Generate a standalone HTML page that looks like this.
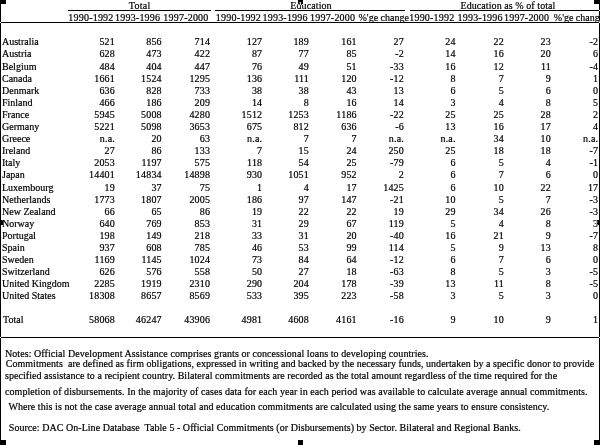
<!DOCTYPE html>
<html><head><meta charset="utf-8"><style>
html,body{margin:0;padding:0;background:#fff;width:600px;height:445px;overflow:hidden}
body{position:relative;font-family:"Liberation Serif",serif;font-size:10px;color:#000}
.t{position:absolute;white-space:pre;line-height:12px;-webkit-text-stroke:0.2px #000}
.r{width:200px;text-align:right;letter-spacing:0.2px}
.c{width:400px;text-align:center}
.b{position:absolute;background:#000}
.h{position:absolute;background:#fff;mix-blend-mode:difference}
</style></head><body>
<div id="wrap" style="position:absolute;left:0;top:0;width:600px;height:445px;">
<div class="t c" style="left:-60.40px;top:-0.50px;letter-spacing:0.25px">Total</div>
<div class="t c" style="left:111.00px;top:-0.50px;letter-spacing:0.1px">Education</div>
<div class="t c" style="left:308.00px;top:-0.50px;letter-spacing:0.07px">Education as % of total</div>
<div class="b" style="left:68px;top:10px;width:143px;height:1px;"></div>
<div class="b" style="left:215px;top:10px;width:190px;height:1px;"></div>
<div class="b" style="left:410px;top:10px;width:190px;height:1px;"></div>
<div class="t r" style="left:-86.50px;top:11.90px;">1990-1992</div>
<div class="t r" style="left:-39.80px;top:11.90px;">1993-1996</div>
<div class="t r" style="left:8.50px;top:11.90px;">1997-2000</div>
<div class="t r" style="left:61.00px;top:11.90px;">1990-1992</div>
<div class="t r" style="left:107.70px;top:11.90px;">1993-1996</div>
<div class="t r" style="left:155.20px;top:11.90px;">1997-2000</div>
<div class="t" style="left:358.50px;top:11.90px;">%'ge change</div>
<div class="t r" style="left:254.40px;top:11.90px;">1990-1992</div>
<div class="t r" style="left:302.70px;top:11.90px;">1993-1996</div>
<div class="t r" style="left:349.20px;top:11.90px;">1997-2000</div>
<div class="t" style="left:553.80px;top:11.90px;">%'ge change</div>
<div class="b" style="left:0px;top:22px;width:600px;height:1px;"></div>
<div class="t" style="left:2.00px;top:36.00px;">Australia</div>
<div class="t r" style="left:-85.00px;top:36.00px;">521</div>
<div class="t r" style="left:-38.20px;top:36.00px;">856</div>
<div class="t r" style="left:10.20px;top:36.00px;">714</div>
<div class="t r" style="left:62.30px;top:36.00px;">127</div>
<div class="t r" style="left:109.00px;top:36.00px;">189</div>
<div class="t r" style="left:156.80px;top:36.00px;">161</div>
<div class="t r" style="left:204.00px;top:36.00px;">27</div>
<div class="t r" style="left:255.70px;top:36.00px;">24</div>
<div class="t r" style="left:304.00px;top:36.00px;">22</div>
<div class="t r" style="left:351.00px;top:36.00px;">23</div>
<div class="t r" style="left:398.30px;top:36.00px;">-2</div>
<div class="t" style="left:2.00px;top:48.00px;">Austria</div>
<div class="t r" style="left:-85.00px;top:48.00px;">628</div>
<div class="t r" style="left:-38.20px;top:48.00px;">473</div>
<div class="t r" style="left:10.20px;top:48.00px;">422</div>
<div class="t r" style="left:62.30px;top:48.00px;">87</div>
<div class="t r" style="left:109.00px;top:48.00px;">77</div>
<div class="t r" style="left:156.80px;top:48.00px;">85</div>
<div class="t r" style="left:204.00px;top:48.00px;">-2</div>
<div class="t r" style="left:255.70px;top:48.00px;">14</div>
<div class="t r" style="left:304.00px;top:48.00px;">16</div>
<div class="t r" style="left:351.00px;top:48.00px;">20</div>
<div class="t r" style="left:398.30px;top:48.00px;">6</div>
<div class="t" style="left:2.00px;top:61.00px;">Belgium</div>
<div class="t r" style="left:-85.00px;top:61.00px;">484</div>
<div class="t r" style="left:-38.20px;top:61.00px;">404</div>
<div class="t r" style="left:10.20px;top:61.00px;">447</div>
<div class="t r" style="left:62.30px;top:61.00px;">76</div>
<div class="t r" style="left:109.00px;top:61.00px;">49</div>
<div class="t r" style="left:156.80px;top:61.00px;">51</div>
<div class="t r" style="left:204.00px;top:61.00px;">-33</div>
<div class="t r" style="left:255.70px;top:61.00px;">16</div>
<div class="t r" style="left:304.00px;top:61.00px;">12</div>
<div class="t r" style="left:351.00px;top:61.00px;">11</div>
<div class="t r" style="left:398.30px;top:61.00px;">-4</div>
<div class="t" style="left:2.00px;top:73.00px;">Canada</div>
<div class="t r" style="left:-85.00px;top:73.00px;">1661</div>
<div class="t r" style="left:-38.20px;top:73.00px;">1524</div>
<div class="t r" style="left:10.20px;top:73.00px;">1295</div>
<div class="t r" style="left:62.30px;top:73.00px;">136</div>
<div class="t r" style="left:109.00px;top:73.00px;">111</div>
<div class="t r" style="left:156.80px;top:73.00px;">120</div>
<div class="t r" style="left:204.00px;top:73.00px;">-12</div>
<div class="t r" style="left:255.70px;top:73.00px;">8</div>
<div class="t r" style="left:304.00px;top:73.00px;">7</div>
<div class="t r" style="left:351.00px;top:73.00px;">9</div>
<div class="t r" style="left:398.30px;top:73.00px;">1</div>
<div class="t" style="left:2.00px;top:85.00px;">Denmark</div>
<div class="t r" style="left:-85.00px;top:85.00px;">636</div>
<div class="t r" style="left:-38.20px;top:85.00px;">828</div>
<div class="t r" style="left:10.20px;top:85.00px;">733</div>
<div class="t r" style="left:62.30px;top:85.00px;">38</div>
<div class="t r" style="left:109.00px;top:85.00px;">38</div>
<div class="t r" style="left:156.80px;top:85.00px;">43</div>
<div class="t r" style="left:204.00px;top:85.00px;">13</div>
<div class="t r" style="left:255.70px;top:85.00px;">6</div>
<div class="t r" style="left:304.00px;top:85.00px;">5</div>
<div class="t r" style="left:351.00px;top:85.00px;">6</div>
<div class="t r" style="left:398.30px;top:85.00px;">0</div>
<div class="t" style="left:2.00px;top:97.00px;">Finland</div>
<div class="t r" style="left:-85.00px;top:97.00px;">466</div>
<div class="t r" style="left:-38.20px;top:97.00px;">186</div>
<div class="t r" style="left:10.20px;top:97.00px;">209</div>
<div class="t r" style="left:62.30px;top:97.00px;">14</div>
<div class="t r" style="left:109.00px;top:97.00px;">8</div>
<div class="t r" style="left:156.80px;top:97.00px;">16</div>
<div class="t r" style="left:204.00px;top:97.00px;">14</div>
<div class="t r" style="left:255.70px;top:97.00px;">3</div>
<div class="t r" style="left:304.00px;top:97.00px;">4</div>
<div class="t r" style="left:351.00px;top:97.00px;">8</div>
<div class="t r" style="left:398.30px;top:97.00px;">5</div>
<div class="t" style="left:2.00px;top:109.00px;">France</div>
<div class="t r" style="left:-85.00px;top:109.00px;">5945</div>
<div class="t r" style="left:-38.20px;top:109.00px;">5008</div>
<div class="t r" style="left:10.20px;top:109.00px;">4280</div>
<div class="t r" style="left:62.30px;top:109.00px;">1512</div>
<div class="t r" style="left:109.00px;top:109.00px;">1253</div>
<div class="t r" style="left:156.80px;top:109.00px;">1186</div>
<div class="t r" style="left:204.00px;top:109.00px;">-22</div>
<div class="t r" style="left:255.70px;top:109.00px;">25</div>
<div class="t r" style="left:304.00px;top:109.00px;">25</div>
<div class="t r" style="left:351.00px;top:109.00px;">28</div>
<div class="t r" style="left:398.30px;top:109.00px;">2</div>
<div class="t" style="left:2.00px;top:121.00px;">Germany</div>
<div class="t r" style="left:-85.00px;top:121.00px;">5221</div>
<div class="t r" style="left:-38.20px;top:121.00px;">5098</div>
<div class="t r" style="left:10.20px;top:121.00px;">3653</div>
<div class="t r" style="left:62.30px;top:121.00px;">675</div>
<div class="t r" style="left:109.00px;top:121.00px;">812</div>
<div class="t r" style="left:156.80px;top:121.00px;">636</div>
<div class="t r" style="left:204.00px;top:121.00px;">-6</div>
<div class="t r" style="left:255.70px;top:121.00px;">13</div>
<div class="t r" style="left:304.00px;top:121.00px;">16</div>
<div class="t r" style="left:351.00px;top:121.00px;">17</div>
<div class="t r" style="left:398.30px;top:121.00px;">4</div>
<div class="t" style="left:2.00px;top:133.00px;">Greece</div>
<div class="t r" style="left:-85.00px;top:133.00px;">n.a.</div>
<div class="t r" style="left:-38.20px;top:133.00px;">20</div>
<div class="t r" style="left:10.20px;top:133.00px;">63</div>
<div class="t r" style="left:62.30px;top:133.00px;">n.a.</div>
<div class="t r" style="left:109.00px;top:133.00px;">7</div>
<div class="t r" style="left:156.80px;top:133.00px;">7</div>
<div class="t r" style="left:204.00px;top:133.00px;">n.a.</div>
<div class="t r" style="left:255.70px;top:133.00px;">n.a.</div>
<div class="t r" style="left:304.00px;top:133.00px;">34</div>
<div class="t r" style="left:351.00px;top:133.00px;">10</div>
<div class="t r" style="left:398.30px;top:133.00px;">n.a.</div>
<div class="t" style="left:2.00px;top:145.00px;">Ireland</div>
<div class="t r" style="left:-85.00px;top:145.00px;">27</div>
<div class="t r" style="left:-38.20px;top:145.00px;">86</div>
<div class="t r" style="left:10.20px;top:145.00px;">133</div>
<div class="t r" style="left:62.30px;top:145.00px;">7</div>
<div class="t r" style="left:109.00px;top:145.00px;">15</div>
<div class="t r" style="left:156.80px;top:145.00px;">24</div>
<div class="t r" style="left:204.00px;top:145.00px;">250</div>
<div class="t r" style="left:255.70px;top:145.00px;">25</div>
<div class="t r" style="left:304.00px;top:145.00px;">18</div>
<div class="t r" style="left:351.00px;top:145.00px;">18</div>
<div class="t r" style="left:398.30px;top:145.00px;">-7</div>
<div class="t" style="left:2.00px;top:157.00px;">Italy</div>
<div class="t r" style="left:-85.00px;top:157.00px;">2053</div>
<div class="t r" style="left:-38.20px;top:157.00px;">1197</div>
<div class="t r" style="left:10.20px;top:157.00px;">575</div>
<div class="t r" style="left:62.30px;top:157.00px;">118</div>
<div class="t r" style="left:109.00px;top:157.00px;">54</div>
<div class="t r" style="left:156.80px;top:157.00px;">25</div>
<div class="t r" style="left:204.00px;top:157.00px;">-79</div>
<div class="t r" style="left:255.70px;top:157.00px;">6</div>
<div class="t r" style="left:304.00px;top:157.00px;">5</div>
<div class="t r" style="left:351.00px;top:157.00px;">4</div>
<div class="t r" style="left:398.30px;top:157.00px;">-1</div>
<div class="t" style="left:2.00px;top:169.00px;">Japan</div>
<div class="t r" style="left:-85.00px;top:169.00px;">14401</div>
<div class="t r" style="left:-38.20px;top:169.00px;">14834</div>
<div class="t r" style="left:10.20px;top:169.00px;">14898</div>
<div class="t r" style="left:62.30px;top:169.00px;">930</div>
<div class="t r" style="left:109.00px;top:169.00px;">1051</div>
<div class="t r" style="left:156.80px;top:169.00px;">952</div>
<div class="t r" style="left:204.00px;top:169.00px;">2</div>
<div class="t r" style="left:255.70px;top:169.00px;">6</div>
<div class="t r" style="left:304.00px;top:169.00px;">7</div>
<div class="t r" style="left:351.00px;top:169.00px;">6</div>
<div class="t r" style="left:398.30px;top:169.00px;">0</div>
<div class="t" style="left:2.00px;top:182.00px;">Luxembourg</div>
<div class="t r" style="left:-85.00px;top:182.00px;">19</div>
<div class="t r" style="left:-38.20px;top:182.00px;">37</div>
<div class="t r" style="left:10.20px;top:182.00px;">75</div>
<div class="t r" style="left:62.30px;top:182.00px;">1</div>
<div class="t r" style="left:109.00px;top:182.00px;">4</div>
<div class="t r" style="left:156.80px;top:182.00px;">17</div>
<div class="t r" style="left:204.00px;top:182.00px;">1425</div>
<div class="t r" style="left:255.70px;top:182.00px;">6</div>
<div class="t r" style="left:304.00px;top:182.00px;">10</div>
<div class="t r" style="left:351.00px;top:182.00px;">22</div>
<div class="t r" style="left:398.30px;top:182.00px;">17</div>
<div class="t" style="left:2.00px;top:194.00px;">Netherlands</div>
<div class="t r" style="left:-85.00px;top:194.00px;">1773</div>
<div class="t r" style="left:-38.20px;top:194.00px;">1807</div>
<div class="t r" style="left:10.20px;top:194.00px;">2005</div>
<div class="t r" style="left:62.30px;top:194.00px;">186</div>
<div class="t r" style="left:109.00px;top:194.00px;">97</div>
<div class="t r" style="left:156.80px;top:194.00px;">147</div>
<div class="t r" style="left:204.00px;top:194.00px;">-21</div>
<div class="t r" style="left:255.70px;top:194.00px;">10</div>
<div class="t r" style="left:304.00px;top:194.00px;">5</div>
<div class="t r" style="left:351.00px;top:194.00px;">7</div>
<div class="t r" style="left:398.30px;top:194.00px;">-3</div>
<div class="t" style="left:2.00px;top:206.00px;">New Zealand</div>
<div class="t r" style="left:-85.00px;top:206.00px;">66</div>
<div class="t r" style="left:-38.20px;top:206.00px;">65</div>
<div class="t r" style="left:10.20px;top:206.00px;">86</div>
<div class="t r" style="left:62.30px;top:206.00px;">19</div>
<div class="t r" style="left:109.00px;top:206.00px;">22</div>
<div class="t r" style="left:156.80px;top:206.00px;">22</div>
<div class="t r" style="left:204.00px;top:206.00px;">19</div>
<div class="t r" style="left:255.70px;top:206.00px;">29</div>
<div class="t r" style="left:304.00px;top:206.00px;">34</div>
<div class="t r" style="left:351.00px;top:206.00px;">26</div>
<div class="t r" style="left:398.30px;top:206.00px;">-3</div>
<div class="t" style="left:2.00px;top:218.00px;">Norway</div>
<div class="t r" style="left:-85.00px;top:218.00px;">640</div>
<div class="t r" style="left:-38.20px;top:218.00px;">769</div>
<div class="t r" style="left:10.20px;top:218.00px;">853</div>
<div class="t r" style="left:62.30px;top:218.00px;">31</div>
<div class="t r" style="left:109.00px;top:218.00px;">29</div>
<div class="t r" style="left:156.80px;top:218.00px;">67</div>
<div class="t r" style="left:204.00px;top:218.00px;">119</div>
<div class="t r" style="left:255.70px;top:218.00px;">5</div>
<div class="t r" style="left:304.00px;top:218.00px;">4</div>
<div class="t r" style="left:351.00px;top:218.00px;">8</div>
<div class="t r" style="left:398.30px;top:218.00px;">3</div>
<div class="t" style="left:2.00px;top:230.00px;">Portugal</div>
<div class="t r" style="left:-85.00px;top:230.00px;">198</div>
<div class="t r" style="left:-38.20px;top:230.00px;">149</div>
<div class="t r" style="left:10.20px;top:230.00px;">218</div>
<div class="t r" style="left:62.30px;top:230.00px;">33</div>
<div class="t r" style="left:109.00px;top:230.00px;">31</div>
<div class="t r" style="left:156.80px;top:230.00px;">20</div>
<div class="t r" style="left:204.00px;top:230.00px;">-40</div>
<div class="t r" style="left:255.70px;top:230.00px;">16</div>
<div class="t r" style="left:304.00px;top:230.00px;">21</div>
<div class="t r" style="left:351.00px;top:230.00px;">9</div>
<div class="t r" style="left:398.30px;top:230.00px;">-7</div>
<div class="t" style="left:2.00px;top:242.00px;">Spain</div>
<div class="t r" style="left:-85.00px;top:242.00px;">937</div>
<div class="t r" style="left:-38.20px;top:242.00px;">608</div>
<div class="t r" style="left:10.20px;top:242.00px;">785</div>
<div class="t r" style="left:62.30px;top:242.00px;">46</div>
<div class="t r" style="left:109.00px;top:242.00px;">53</div>
<div class="t r" style="left:156.80px;top:242.00px;">99</div>
<div class="t r" style="left:204.00px;top:242.00px;">114</div>
<div class="t r" style="left:255.70px;top:242.00px;">5</div>
<div class="t r" style="left:304.00px;top:242.00px;">9</div>
<div class="t r" style="left:351.00px;top:242.00px;">13</div>
<div class="t r" style="left:398.30px;top:242.00px;">8</div>
<div class="t" style="left:2.00px;top:254.00px;">Sweden</div>
<div class="t r" style="left:-85.00px;top:254.00px;">1169</div>
<div class="t r" style="left:-38.20px;top:254.00px;">1145</div>
<div class="t r" style="left:10.20px;top:254.00px;">1024</div>
<div class="t r" style="left:62.30px;top:254.00px;">73</div>
<div class="t r" style="left:109.00px;top:254.00px;">84</div>
<div class="t r" style="left:156.80px;top:254.00px;">64</div>
<div class="t r" style="left:204.00px;top:254.00px;">-12</div>
<div class="t r" style="left:255.70px;top:254.00px;">6</div>
<div class="t r" style="left:304.00px;top:254.00px;">7</div>
<div class="t r" style="left:351.00px;top:254.00px;">6</div>
<div class="t r" style="left:398.30px;top:254.00px;">0</div>
<div class="t" style="left:2.00px;top:266.00px;">Switzerland</div>
<div class="t r" style="left:-85.00px;top:266.00px;">626</div>
<div class="t r" style="left:-38.20px;top:266.00px;">576</div>
<div class="t r" style="left:10.20px;top:266.00px;">558</div>
<div class="t r" style="left:62.30px;top:266.00px;">50</div>
<div class="t r" style="left:109.00px;top:266.00px;">27</div>
<div class="t r" style="left:156.80px;top:266.00px;">18</div>
<div class="t r" style="left:204.00px;top:266.00px;">-63</div>
<div class="t r" style="left:255.70px;top:266.00px;">8</div>
<div class="t r" style="left:304.00px;top:266.00px;">5</div>
<div class="t r" style="left:351.00px;top:266.00px;">3</div>
<div class="t r" style="left:398.30px;top:266.00px;">-5</div>
<div class="t" style="left:2.00px;top:278.00px;">United Kingdom</div>
<div class="t r" style="left:-85.00px;top:278.00px;">2285</div>
<div class="t r" style="left:-38.20px;top:278.00px;">1919</div>
<div class="t r" style="left:10.20px;top:278.00px;">2310</div>
<div class="t r" style="left:62.30px;top:278.00px;">290</div>
<div class="t r" style="left:109.00px;top:278.00px;">204</div>
<div class="t r" style="left:156.80px;top:278.00px;">178</div>
<div class="t r" style="left:204.00px;top:278.00px;">-39</div>
<div class="t r" style="left:255.70px;top:278.00px;">13</div>
<div class="t r" style="left:304.00px;top:278.00px;">11</div>
<div class="t r" style="left:351.00px;top:278.00px;">8</div>
<div class="t r" style="left:398.30px;top:278.00px;">-5</div>
<div class="t" style="left:2.00px;top:290.00px;">United States</div>
<div class="t r" style="left:-85.00px;top:290.00px;">18308</div>
<div class="t r" style="left:-38.20px;top:290.00px;">8657</div>
<div class="t r" style="left:10.20px;top:290.00px;">8569</div>
<div class="t r" style="left:62.30px;top:290.00px;">533</div>
<div class="t r" style="left:109.00px;top:290.00px;">395</div>
<div class="t r" style="left:156.80px;top:290.00px;">223</div>
<div class="t r" style="left:204.00px;top:290.00px;">-58</div>
<div class="t r" style="left:255.70px;top:290.00px;">3</div>
<div class="t r" style="left:304.00px;top:290.00px;">5</div>
<div class="t r" style="left:351.00px;top:290.00px;">3</div>
<div class="t r" style="left:398.30px;top:290.00px;">0</div>
<div class="t" style="left:3.00px;top:314.00px;">Total</div>
<div class="t r" style="left:-85.00px;top:314.00px;">58068</div>
<div class="t r" style="left:-38.20px;top:314.00px;">46247</div>
<div class="t r" style="left:10.20px;top:314.00px;">43906</div>
<div class="t r" style="left:62.30px;top:314.00px;">4981</div>
<div class="t r" style="left:109.00px;top:314.00px;">4608</div>
<div class="t r" style="left:156.80px;top:314.00px;">4161</div>
<div class="t r" style="left:204.00px;top:314.00px;">-16</div>
<div class="t r" style="left:255.70px;top:314.00px;">9</div>
<div class="t r" style="left:304.00px;top:314.00px;">10</div>
<div class="t r" style="left:351.00px;top:314.00px;">9</div>
<div class="t r" style="left:398.30px;top:314.00px;">1</div>
<div class="b" style="left:0px;top:337px;width:600px;height:1px;"></div>
<div class="t" style="left:5px;top:347.80px;letter-spacing:0.0594px;word-spacing:0px">Notes: Official Development Assistance comprises grants or concessional loans to developing countries.</div>
<div class="t" style="left:5.7px;top:357.70px;letter-spacing:0.0423px;word-spacing:0px">Commitments  are defined as firm obligations, expressed in writing and backed by the necessary funds, undertaken by a specific donor to provide</div>
<div class="t" style="left:5px;top:370.10px;letter-spacing:0.0435px;word-spacing:0px">specified assistance to a recipient country. Bilateral commitments are recorded as the total amount regardless of the time required for the</div>
<div class="t" style="left:5px;top:386.40px;letter-spacing:0.0567px;word-spacing:0px">completion of disbursements. In the majority of cases data for each year in each period was available to calculate average annual commitments.</div>
<div class="t" style="left:8.4px;top:401.00px;letter-spacing:0.0534px;word-spacing:0px">Where this is not the case average annual total and education commitments are calculated using the same years to ensure consistency.</div>
<div class="t" style="left:8.8px;top:422.00px;letter-spacing:0.042px;word-spacing:0px">Source: DAC On-Line Database  Table 5 - Official Commitments (or Disbursements) by Sector. Bilateral and Regional Banks.</div>
<div class="h" style="left:0px;top:4px;width:1px;height:216px"></div>
<div class="h" style="left:0px;top:225px;width:1px;height:215px"></div>
<div class="h" style="left:599px;top:4px;width:1px;height:216px"></div>
<div class="h" style="left:599px;top:225px;width:1px;height:215px"></div>
<div class="h" style="left:0px;top:0px;width:6px;height:4px"></div>
<div class="h" style="left:298px;top:0px;width:5px;height:5px"></div>
<div class="h" style="left:594px;top:0px;width:6px;height:4px"></div>
<div class="h" style="left:0px;top:220px;width:3px;height:5px"></div>
<div class="h" style="left:596px;top:220px;width:4px;height:5px"></div>
<div class="h" style="left:0px;top:440px;width:6px;height:5px"></div>
<div class="h" style="left:298px;top:440px;width:5px;height:5px"></div>
<div class="h" style="left:594px;top:440px;width:6px;height:5px"></div>
</div>
</body></html>
